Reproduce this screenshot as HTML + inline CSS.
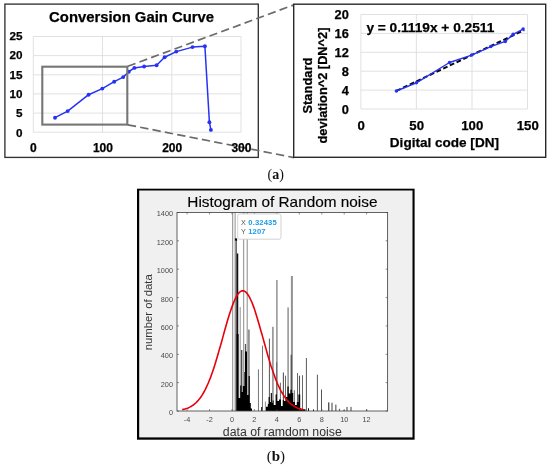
<!DOCTYPE html>
<html lang="en"><head><meta charset="utf-8"><title>Conversion gain curve and histogram of random noise</title>
<style>html,body{margin:0;padding:0;background:#fff;}body{width:550px;height:466px;overflow:hidden;}svg{display:block;}text{font-family:"Liberation Sans", Arial, Helvetica, sans-serif;}.b{font-weight:bold;stroke:#000;stroke-width:0.25px;fill:#000;}.ser{font-family:"Liberation Serif", "Times New Roman", serif;}</style></head><body>
<svg width="550" height="466" viewBox="0 0 550 466">
<rect width="550" height="466" fill="#fff"/>
<g id="left-chart">
<rect x="4.9" y="4.1" width="253.4" height="153.3" fill="#fff" stroke="#333" stroke-width="1.35"/>
<line x1="33.3" x2="241.0" y1="132.2" y2="132.2" stroke="#d9d9d9" stroke-width="0.8"/>
<line x1="33.3" x2="241.0" y1="113.1" y2="113.1" stroke="#d9d9d9" stroke-width="0.8"/>
<line x1="33.3" x2="241.0" y1="93.9" y2="93.9" stroke="#d9d9d9" stroke-width="0.8"/>
<line x1="33.3" x2="241.0" y1="74.8" y2="74.8" stroke="#d9d9d9" stroke-width="0.8"/>
<line x1="33.3" x2="241.0" y1="55.6" y2="55.6" stroke="#d9d9d9" stroke-width="0.8"/>
<line x1="33.3" x2="241.0" y1="36.5" y2="36.5" stroke="#d9d9d9" stroke-width="0.8"/>
<line x1="33.3" x2="33.3" y1="132.2" y2="36.5" stroke="#d9d9d9" stroke-width="0.8"/>
<line x1="102.5" x2="102.5" y1="132.2" y2="36.5" stroke="#d9d9d9" stroke-width="0.8"/>
<line x1="171.8" x2="171.8" y1="132.2" y2="36.5" stroke="#d9d9d9" stroke-width="0.8"/>
<line x1="241.0" x2="241.0" y1="132.2" y2="36.5" stroke="#d9d9d9" stroke-width="0.8"/>
<text class="b" x="131.6" y="21.8" font-size="14.85" text-anchor="middle" fill="#111">Conversion Gain Curve</text>
<text class="b" x="22.6" y="136.5" font-size="11.7" text-anchor="end" fill="#111">0</text>
<text class="b" x="22.6" y="117.2" font-size="11.7" text-anchor="end" fill="#111">5</text>
<text class="b" x="22.6" y="98.0" font-size="11.7" text-anchor="end" fill="#111">10</text>
<text class="b" x="22.6" y="78.7" font-size="11.7" text-anchor="end" fill="#111">15</text>
<text class="b" x="22.6" y="59.4" font-size="11.7" text-anchor="end" fill="#111">20</text>
<text class="b" x="22.6" y="40.1" font-size="11.7" text-anchor="end" fill="#111">25</text>
<polyline fill="none" stroke="#2632f5" stroke-width="1.5" stroke-linejoin="round" points="55.0,117.7 67.7,111.1 88.6,94.7 102.3,88.6 114.2,81.7 123.2,77.1 128.8,71.7 134.4,67.9 144.1,66.5 156.6,65.3 164.6,57.2 176.3,51.6 192.5,47.1 204.9,46.3 209.4,122.2 210.9,129.9"/>
<circle cx="55.0" cy="117.7" r="1.95" fill="#2632f5"/>
<circle cx="67.7" cy="111.1" r="1.95" fill="#2632f5"/>
<circle cx="88.6" cy="94.7" r="1.95" fill="#2632f5"/>
<circle cx="102.3" cy="88.6" r="1.95" fill="#2632f5"/>
<circle cx="114.2" cy="81.7" r="1.95" fill="#2632f5"/>
<circle cx="123.2" cy="77.1" r="1.95" fill="#2632f5"/>
<circle cx="128.8" cy="71.7" r="1.95" fill="#2632f5"/>
<circle cx="134.4" cy="67.9" r="1.95" fill="#2632f5"/>
<circle cx="144.1" cy="66.5" r="1.95" fill="#2632f5"/>
<circle cx="156.6" cy="65.3" r="1.95" fill="#2632f5"/>
<circle cx="164.6" cy="57.2" r="1.95" fill="#2632f5"/>
<circle cx="176.3" cy="51.6" r="1.95" fill="#2632f5"/>
<circle cx="192.5" cy="47.1" r="1.95" fill="#2632f5"/>
<circle cx="204.9" cy="46.3" r="1.95" fill="#2632f5"/>
<circle cx="209.4" cy="122.2" r="1.95" fill="#2632f5"/>
<circle cx="210.9" cy="129.9" r="1.95" fill="#2632f5"/>
<rect x="42.3" y="66.7" width="85" height="57.9" fill="none" stroke="#767676" stroke-width="2.1"/>
</g>
<line x1="127.8" y1="66.3" x2="294.6" y2="4.6" stroke="#6b6b6b" stroke-width="1.7" stroke-dasharray="8.2 4.25"/>
<line x1="127.8" y1="124.8" x2="294" y2="157.6" stroke="#6b6b6b" stroke-width="1.7" stroke-dasharray="8.4 4.18"/>
<text class="b" x="33.3" y="151.9" font-size="12" text-anchor="middle" fill="#111">0</text>
<text class="b" x="102.9" y="151.9" font-size="12" text-anchor="middle" fill="#111">100</text>
<text class="b" x="172.2" y="151.9" font-size="12" text-anchor="middle" fill="#111">200</text>
<text class="b" x="241.4" y="151.9" font-size="12" text-anchor="middle" fill="#111">300</text>
<g id="right-chart">
<rect x="293.7" y="4.2" width="252" height="153.1" fill="#fff" stroke="#2a2a2a" stroke-width="1.4"/>
<line x1="360.9" x2="527.5" y1="109.0" y2="109.0" stroke="#d9d9d9" stroke-width="0.8"/>
<line x1="360.9" x2="527.5" y1="90.1" y2="90.1" stroke="#d9d9d9" stroke-width="0.8"/>
<line x1="360.9" x2="527.5" y1="71.2" y2="71.2" stroke="#d9d9d9" stroke-width="0.8"/>
<line x1="360.9" x2="527.5" y1="52.3" y2="52.3" stroke="#d9d9d9" stroke-width="0.8"/>
<line x1="360.9" x2="527.5" y1="33.4" y2="33.4" stroke="#d9d9d9" stroke-width="0.8"/>
<line x1="360.9" x2="527.5" y1="14.5" y2="14.5" stroke="#d9d9d9" stroke-width="0.8"/>
<line x1="360.9" x2="360.9" y1="109.0" y2="14.5" stroke="#d9d9d9" stroke-width="0.8"/>
<line x1="416.4" x2="416.4" y1="109.0" y2="14.5" stroke="#d9d9d9" stroke-width="0.8"/>
<line x1="472.0" x2="472.0" y1="109.0" y2="14.5" stroke="#d9d9d9" stroke-width="0.8"/>
<line x1="527.5" x2="527.5" y1="109.0" y2="14.5" stroke="#d9d9d9" stroke-width="0.8"/>
<text class="b" x="348.8" y="113.6" font-size="12.8" text-anchor="end" fill="#111">0</text>
<text class="b" x="348.8" y="94.7" font-size="12.8" text-anchor="end" fill="#111">4</text>
<text class="b" x="348.8" y="75.8" font-size="12.8" text-anchor="end" fill="#111">8</text>
<text class="b" x="348.8" y="56.9" font-size="12.8" text-anchor="end" fill="#111">12</text>
<text class="b" x="348.8" y="38.0" font-size="12.8" text-anchor="end" fill="#111">16</text>
<text class="b" x="348.8" y="19.1" font-size="12.8" text-anchor="end" fill="#111">20</text>
<text class="b" x="361.2" y="129.8" font-size="13.2" text-anchor="middle" fill="#111">0</text>
<text class="b" x="416.7" y="129.8" font-size="13.2" text-anchor="middle" fill="#111">50</text>
<text class="b" x="472.3" y="129.8" font-size="13.2" text-anchor="middle" fill="#111">100</text>
<text class="b" x="527.8" y="129.8" font-size="13.2" text-anchor="middle" fill="#111">150</text>
<text class="b" x="444.4" y="146.6" font-size="13.55" text-anchor="middle" fill="#111">Digital code [DN]</text>
<text class="b" transform="translate(312.0,85.6) rotate(-90)" font-size="12.9" text-anchor="middle" fill="#111">Standard</text>
<text class="b" transform="translate(327.0,85.5) rotate(-90)" font-size="12.8" text-anchor="middle" fill="#111">deviation^2 [DN^2]</text>
<line x1="396.4" y1="90.9" x2="524.2" y2="30.1" stroke="#0a0a0a" stroke-width="2.0" stroke-dasharray="4.8 2.6"/>
<polyline fill="none" stroke="#2632f5" stroke-width="1.4" stroke-linejoin="round" points="396.4,91.0 416.4,82.8 449.5,62.5 471.7,55.1 490.8,46.6 505.3,41.4 513.1,34.3 523.1,29.1"/>
<circle cx="396.4" cy="91.0" r="1.75" fill="#2632f5"/>
<circle cx="416.4" cy="82.8" r="1.75" fill="#2632f5"/>
<circle cx="449.5" cy="62.5" r="1.75" fill="#2632f5"/>
<circle cx="471.7" cy="55.1" r="1.75" fill="#2632f5"/>
<circle cx="490.8" cy="46.6" r="1.75" fill="#2632f5"/>
<circle cx="505.3" cy="41.4" r="1.75" fill="#2632f5"/>
<circle cx="513.1" cy="34.3" r="1.75" fill="#2632f5"/>
<circle cx="523.1" cy="29.1" r="1.75" fill="#2632f5"/>
<text class="b" x="366.4" y="32.3" font-size="13.7" fill="#111">y = 0.1119x + 0.2511</text>
</g>
<text class="ser" x="275.7" y="179.2" font-size="14" text-anchor="middle" fill="#111">(<tspan font-weight="bold">a</tspan>)</text>
<g id="histogram">
<rect x="137.0" y="188.7" width="277.6" height="251.0" fill="#000"/>
<rect x="139.2" y="190.5" width="273.3" height="246.9" fill="#f0f0f0"/>
<rect x="177.0" y="212.5" width="210.6" height="198.5" fill="#fff"/>
<text x="282.4" y="206.6" font-size="15.35" text-anchor="middle" fill="#000" stroke="#000" stroke-width="0.15">Histogram of Random noise</text>
<rect x="232.20" y="212.5" width="1.00" height="198.5" fill="#8a8a8a"/>
<rect x="234.65" y="212.5" width="0.90" height="198.5" fill="#858585"/>
<rect x="243.20" y="212.5" width="1.00" height="198.5" fill="#8a8a8a"/>
<rect x="246.70" y="212.5" width="1.00" height="198.5" fill="#8a8a8a"/>
<rect x="235.75" y="240.0" width="0.90" height="171.0" fill="#222"/>
<rect x="236.75" y="253.5" width="1.50" height="157.5" fill="#111"/>
<rect x="239.70" y="307.0" width="1.00" height="104.0" fill="#929292"/>
<rect x="248.00" y="329.5" width="1.80" height="81.5" fill="#929292"/>
<rect x="241.05" y="350.0" width="1.30" height="61.0" fill="#484848"/>
<rect x="244.90" y="344.0" width="1.20" height="67.0" fill="#555"/>
<rect x="257.95" y="369.3" width="0.90" height="41.7" fill="#686868"/>
<rect x="262.05" y="345.6" width="0.90" height="65.4" fill="#686868"/>
<rect x="264.90" y="401.5" width="1.00" height="9.5" fill="#929292"/>
<rect x="268.90" y="338.6" width="1.00" height="72.4" fill="#555"/>
<rect x="272.10" y="326.8" width="1.60" height="84.2" fill="#929292"/>
<rect x="276.15" y="280.0" width="1.50" height="131.0" fill="#929292"/>
<rect x="276.20" y="362.0" width="1.00" height="49.0" fill="#666"/>
<rect x="279.90" y="382.7" width="1.00" height="28.3" fill="#686868"/>
<rect x="282.85" y="372.5" width="1.10" height="38.5" fill="#555"/>
<rect x="285.00" y="375.7" width="1.00" height="35.3" fill="#686868"/>
<rect x="287.35" y="307.4" width="1.50" height="103.6" fill="#929292"/>
<rect x="290.90" y="276.0" width="2.00" height="135.0" fill="#929292"/>
<rect x="290.65" y="354.8" width="1.10" height="56.2" fill="#444"/>
<rect x="293.80" y="390.2" width="1.00" height="20.8" fill="#686868"/>
<rect x="297.00" y="373.0" width="1.00" height="38.0" fill="#686868"/>
<rect x="298.95" y="375.7" width="1.10" height="35.3" fill="#555"/>
<rect x="302.00" y="375.2" width="1.00" height="35.8" fill="#666"/>
<rect x="305.90" y="358.0" width="1.00" height="53.0" fill="#5a5a5a"/>
<rect x="316.90" y="374.7" width="1.00" height="36.3" fill="#5a5a5a"/>
<rect x="321.00" y="389.5" width="1.00" height="21.5" fill="#555"/>
<rect x="328.00" y="402.4" width="1.40" height="8.6" fill="#555"/>
<rect x="331.30" y="402.7" width="1.40" height="8.3" fill="#777"/>
<rect x="335.10" y="404.6" width="1.40" height="6.4" fill="#777"/>
<rect x="338.90" y="408.8" width="1.20" height="2.2" fill="#666"/>
<rect x="343.40" y="410.0" width="1.20" height="1.0" fill="#555"/>
<rect x="346.30" y="406.9" width="1.40" height="4.1" fill="#777"/>
<rect x="350.30" y="406.9" width="1.40" height="4.1" fill="#777"/>
<rect x="366.00" y="409.5" width="1.20" height="1.5" fill="#555"/>
<path d="M236.6,411.0 L236.6,334.0 L238.6,334.0 L238.6,398.0 L240.2,398.0 L240.2,385.4 L241.4,385.4 L241.4,392.0 L242.8,392.0 L242.8,386.0 L244.4,386.0 L244.4,372.0 L245.0,372.0 L245.0,351.5 L247.0,351.5 L247.0,395.0 L248.6,395.0 L248.6,376.0 L249.8,376.0 L249.8,403.0 L250.8,403.0 L250.8,408.5 L252.0,408.5 L252.0,411.0 Z" fill="#000"/>
<path d="M261.2,411.0 L261.2,407.0 L262.2,407.0 L262.2,411.0 Z" fill="#000"/>
<path d="M266.0,411.0 L266.0,406.8 L267.8,406.8 L267.8,404.0 L268.6,404.0 L268.6,397.0 L269.8,397.0 L269.8,402.0 L270.8,402.0 L270.8,393.0 L271.9,393.0 L271.9,403.0 L272.6,403.0 L272.6,400.4 L273.6,400.4 L273.6,405.0 L275.6,405.0 L275.6,394.5 L276.9,394.5 L276.9,401.0 L279.0,401.0 L279.0,399.5 L281.0,399.5 L281.0,406.0 L282.8,406.0 L282.8,400.0 L284.0,400.0 L284.0,401.0 L286.0,401.0 L286.0,397.0 L287.4,397.0 L287.4,386.5 L288.7,386.5 L288.7,393.5 L290.4,393.5 L290.4,389.7 L291.8,389.7 L291.8,393.0 L293.2,393.0 L293.2,402.0 L295.0,402.0 L295.0,405.0 L296.8,405.0 L296.8,402.0 L298.4,402.0 L298.4,394.5 L300.2,394.5 L300.2,408.0 L301.2,408.0 L301.2,409.2 L305.5,409.2 L305.5,411.0 Z" fill="#000"/>
<path d="M308.0,411.0 L308.0,408.3 L309.0,408.3 L309.0,411.0 Z" fill="#000"/>
<path d="M313.0,411.0 L313.0,409.6 L314.0,409.6 L314.0,411.0 Z" fill="#000"/>
<polyline fill="none" stroke="#e8000b" stroke-width="1.6" points="182.2,409.7 183.2,409.4 184.2,409.2 185.2,408.9 186.2,408.6 187.2,408.3 188.2,407.9 189.3,407.4 190.3,406.9 191.3,406.3 192.3,405.7 193.3,405.0 194.3,404.2 195.3,403.4 196.3,402.5 197.3,401.4 198.3,400.3 199.3,399.1 200.4,397.7 201.4,396.3 202.4,394.7 203.4,393.0 204.4,391.2 205.4,389.3 206.4,387.2 207.4,385.0 208.4,382.7 209.4,380.2 210.5,377.6 211.5,374.8 212.5,372.0 213.5,369.0 214.5,365.9 215.5,362.7 216.5,359.3 217.5,355.9 218.5,352.5 219.5,348.9 220.6,345.3 221.6,341.7 222.6,338.1 223.6,334.4 224.6,330.8 225.6,327.2 226.6,323.7 227.6,320.2 228.6,316.9 229.6,313.7 230.7,310.6 231.7,307.6 232.7,304.9 233.7,302.3 234.7,300.0 235.7,297.9 236.7,296.0 237.7,294.5 238.7,293.1 239.7,292.1 240.8,291.4 241.8,290.9 242.8,290.8 243.8,290.9 244.8,291.4 245.8,292.1 246.8,293.1 247.8,294.5 248.8,296.0 249.8,297.9 250.8,300.0 251.9,302.3 252.9,304.9 253.9,307.6 254.9,310.6 255.9,313.7 256.9,316.9 257.9,320.2 258.9,323.7 259.9,327.2 260.9,330.8 262.0,334.4 263.0,338.1 264.0,341.7 265.0,345.3 266.0,348.9 267.0,352.5 268.0,355.9 269.0,359.3 270.0,362.7 271.0,365.9 272.1,369.0 273.1,372.0 274.1,374.8 275.1,377.6 276.1,380.2 277.1,382.7 278.1,385.0 279.1,387.2 280.1,389.3 281.1,391.2 282.2,393.0 283.2,394.7 284.2,396.3 285.2,397.7 286.2,399.1 287.2,400.3 288.2,401.4 289.2,402.5 290.2,403.4 291.2,404.2 292.3,405.0 293.3,405.7 294.3,406.3 295.3,406.9 296.3,407.4 297.3,407.9 298.3,408.3 299.3,408.6 300.3,408.9 301.3,409.2 302.3,409.4 303.4,409.7"/>
<rect x="177.0" y="212.5" width="210.6" height="198.5" fill="none" stroke="#484848" stroke-width="0.85"/>
<line x1="177.0" x2="179.0" y1="411.0" y2="411.0" stroke="#444" stroke-width="0.6"/>
<line x1="385.6" x2="387.6" y1="411.0" y2="411.0" stroke="#444" stroke-width="0.6"/>
<text x="173.0" y="414.9" font-size="7.3" text-anchor="end" fill="#4a4a4a">0</text>
<line x1="177.0" x2="179.0" y1="382.6" y2="382.6" stroke="#444" stroke-width="0.6"/>
<line x1="385.6" x2="387.6" y1="382.6" y2="382.6" stroke="#444" stroke-width="0.6"/>
<text x="173.0" y="386.5" font-size="7.3" text-anchor="end" fill="#4a4a4a">200</text>
<line x1="177.0" x2="179.0" y1="354.3" y2="354.3" stroke="#444" stroke-width="0.6"/>
<line x1="385.6" x2="387.6" y1="354.3" y2="354.3" stroke="#444" stroke-width="0.6"/>
<text x="173.0" y="358.2" font-size="7.3" text-anchor="end" fill="#4a4a4a">400</text>
<line x1="177.0" x2="179.0" y1="325.9" y2="325.9" stroke="#444" stroke-width="0.6"/>
<line x1="385.6" x2="387.6" y1="325.9" y2="325.9" stroke="#444" stroke-width="0.6"/>
<text x="173.0" y="329.8" font-size="7.3" text-anchor="end" fill="#4a4a4a">600</text>
<line x1="177.0" x2="179.0" y1="297.6" y2="297.6" stroke="#444" stroke-width="0.6"/>
<line x1="385.6" x2="387.6" y1="297.6" y2="297.6" stroke="#444" stroke-width="0.6"/>
<text x="173.0" y="301.5" font-size="7.3" text-anchor="end" fill="#4a4a4a">800</text>
<line x1="177.0" x2="179.0" y1="269.2" y2="269.2" stroke="#444" stroke-width="0.6"/>
<line x1="385.6" x2="387.6" y1="269.2" y2="269.2" stroke="#444" stroke-width="0.6"/>
<text x="173.0" y="273.1" font-size="7.3" text-anchor="end" fill="#4a4a4a">1000</text>
<line x1="177.0" x2="179.0" y1="240.8" y2="240.8" stroke="#444" stroke-width="0.6"/>
<line x1="385.6" x2="387.6" y1="240.8" y2="240.8" stroke="#444" stroke-width="0.6"/>
<text x="173.0" y="244.7" font-size="7.3" text-anchor="end" fill="#4a4a4a">1200</text>
<line x1="177.0" x2="179.0" y1="212.5" y2="212.5" stroke="#444" stroke-width="0.6"/>
<line x1="385.6" x2="387.6" y1="212.5" y2="212.5" stroke="#444" stroke-width="0.6"/>
<text x="173.0" y="216.4" font-size="7.3" text-anchor="end" fill="#4a4a4a">1400</text>
<line x1="187.1" x2="187.1" y1="409.0" y2="411.0" stroke="#444" stroke-width="0.6"/>
<line x1="187.1" x2="187.1" y1="212.5" y2="214.5" stroke="#444" stroke-width="0.6"/>
<text x="187.1" y="421.6" font-size="7.3" text-anchor="middle" fill="#4a4a4a">-4</text>
<line x1="209.6" x2="209.6" y1="409.0" y2="411.0" stroke="#444" stroke-width="0.6"/>
<line x1="209.6" x2="209.6" y1="212.5" y2="214.5" stroke="#444" stroke-width="0.6"/>
<text x="209.6" y="421.6" font-size="7.3" text-anchor="middle" fill="#4a4a4a">-2</text>
<line x1="232.0" x2="232.0" y1="409.0" y2="411.0" stroke="#444" stroke-width="0.6"/>
<line x1="232.0" x2="232.0" y1="212.5" y2="214.5" stroke="#444" stroke-width="0.6"/>
<text x="232.0" y="421.6" font-size="7.3" text-anchor="middle" fill="#4a4a4a">0</text>
<line x1="254.4" x2="254.4" y1="409.0" y2="411.0" stroke="#444" stroke-width="0.6"/>
<line x1="254.4" x2="254.4" y1="212.5" y2="214.5" stroke="#444" stroke-width="0.6"/>
<text x="254.4" y="421.6" font-size="7.3" text-anchor="middle" fill="#4a4a4a">2</text>
<line x1="276.9" x2="276.9" y1="409.0" y2="411.0" stroke="#444" stroke-width="0.6"/>
<line x1="276.9" x2="276.9" y1="212.5" y2="214.5" stroke="#444" stroke-width="0.6"/>
<text x="276.9" y="421.6" font-size="7.3" text-anchor="middle" fill="#4a4a4a">4</text>
<line x1="299.3" x2="299.3" y1="409.0" y2="411.0" stroke="#444" stroke-width="0.6"/>
<line x1="299.3" x2="299.3" y1="212.5" y2="214.5" stroke="#444" stroke-width="0.6"/>
<text x="299.3" y="421.6" font-size="7.3" text-anchor="middle" fill="#4a4a4a">6</text>
<line x1="321.8" x2="321.8" y1="409.0" y2="411.0" stroke="#444" stroke-width="0.6"/>
<line x1="321.8" x2="321.8" y1="212.5" y2="214.5" stroke="#444" stroke-width="0.6"/>
<text x="321.8" y="421.6" font-size="7.3" text-anchor="middle" fill="#4a4a4a">8</text>
<line x1="344.2" x2="344.2" y1="409.0" y2="411.0" stroke="#444" stroke-width="0.6"/>
<line x1="344.2" x2="344.2" y1="212.5" y2="214.5" stroke="#444" stroke-width="0.6"/>
<text x="344.2" y="421.6" font-size="7.3" text-anchor="middle" fill="#4a4a4a">10</text>
<line x1="366.6" x2="366.6" y1="409.0" y2="411.0" stroke="#444" stroke-width="0.6"/>
<line x1="366.6" x2="366.6" y1="212.5" y2="214.5" stroke="#444" stroke-width="0.6"/>
<text x="366.6" y="421.6" font-size="7.3" text-anchor="middle" fill="#4a4a4a">12</text>
<text x="282.3" y="435.6" font-size="12.3" text-anchor="middle" fill="#333">data of ramdom noise</text>
<text transform="translate(151.9,312.3) rotate(-90)" font-size="11.3" text-anchor="middle" fill="#333">number of data</text>
<rect x="234.9" y="238.4" width="2.2" height="2.2" fill="#000"/>
<rect x="237.7" y="213.9" width="43.3" height="25.3" rx="2" fill="#fff" stroke="#c8c8c8" stroke-width="0.8"/>
<text x="241.1" y="224.8" font-size="7.2" fill="#555">X <tspan font-weight="bold" font-size="7.6" dx="0.4" letter-spacing="0.15" fill="#1c9be6">0.32435</tspan></text>
<text x="241.1" y="234.3" font-size="7.2" fill="#555">Y <tspan font-weight="bold" font-size="7.6" dx="0.4" letter-spacing="0.15" fill="#1c9be6">1207</tspan></text>
</g>
<text class="ser" x="275.8" y="461.0" font-size="15" text-anchor="middle" fill="#111">(<tspan font-weight="bold">b</tspan>)</text>
</svg></body></html>
